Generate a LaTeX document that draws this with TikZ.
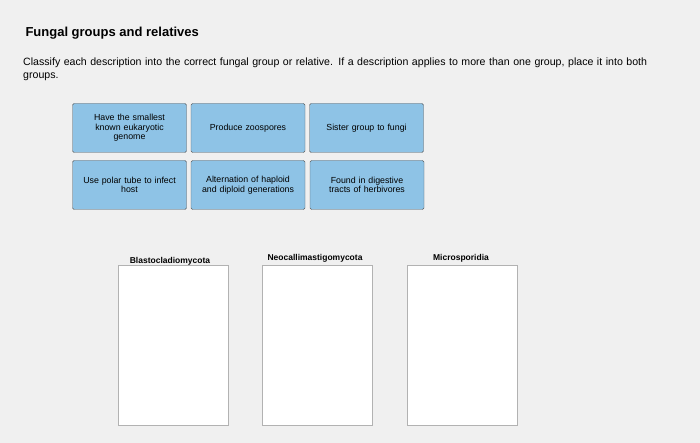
\documentclass[tikz,border=0pt]{standalone}
\usepackage{fontspec}
\setmainfont{Liberation Sans}
\begin{document}
\begin{tikzpicture}[x=1pt,y=-1pt,
  card/.style={draw=gray!70!black,fill=cardblue,rounded corners=1.5pt,minimum width=114pt,minimum height=49pt,align=center,font=\fontsize{8.8}{9.5}\selectfont,text width=110pt,inner sep=1pt},
  bin/.style={draw=gray!60,fill=white,minimum width=110pt,minimum height=160pt,inner sep=0pt},
  binlabel/.style={font=\bfseries\fontsize{8.5}{9}\selectfont}]
\definecolor{cardblue}{HTML}{8EC3E6}
\useasboundingbox (0,0) rectangle (700,443);
\fill[gray!12] (0,0) rectangle (700,443);
\node[anchor=west,font=\bfseries\fontsize{13}{15}\selectfont] (title) at (22,33) {Fungal groups and relatives};
\node[anchor=north west,align=left,text width=670pt,inner sep=0pt,font=\fontsize{10.6}{13}\selectfont] (instr) at (23,58) {Classify each description into the correct fungal group or relative. If a description applies to more than one group, place it into both\\groups.};
\node[card] (c1) at (129.5,128) {Have the smallest\\known eukaryotic\\genome};
\node[card] (c2) at (248,128) {Produce zoospores};
\node[card] (c3) at (366.5,128) {Sister group to fungi};
\node[card] (c4) at (129.5,185) {Use polar tube to infect\\host};
\node[card] (c5) at (248,185) {Alternation of haploid\\and diploid generations};
\node[card] (c6) at (367,185) {Found in digestive\\tracts of herbivores};
\node[bin] (b1) at (173,345) {};
\node[bin] (b2) at (317,345) {};
\node[bin] (b3) at (462,345) {};
\node[binlabel] (l1) at (170,261) {Blastocladiomycota};
\node[binlabel] (l2) at (315,258) {Neocallimastigomycota};
\node[binlabel] (l3) at (461,258) {Microsporidia};
\end{tikzpicture}
\end{document}
